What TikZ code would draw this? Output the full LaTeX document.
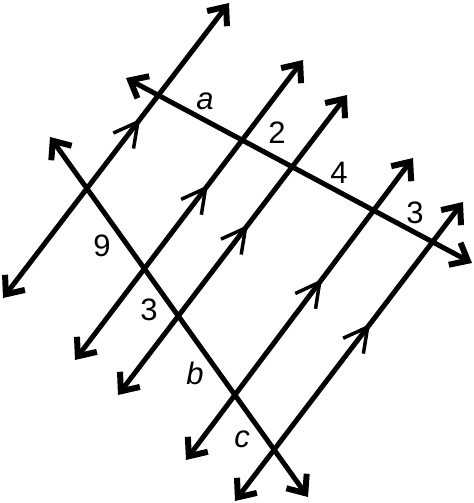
\documentclass[tikz,border=0pt]{standalone}
\usepackage{fontspec}
\setmainfont{Liberation Sans}
\usetikzlibrary{arrows.meta,decorations.markings}
\tikzset{
  barb/.tip={Straight Barb[length=15bp,width=25bp,sharp,line width=6bp]},
  lineb/.style={line width=5bp, draw=black, barb-barb},
  chevron/.style={decorate, decoration={markings,
    mark=at position #1 with {\draw[line width=3.5bp, line join=miter] (-23.8,12.7) -- (0,0) -- (-23.8,-12.7);}}},
  lbl/.style={font=\fontsize{31bp}{36bp}\selectfont, inner sep=0pt, anchor=center}
}
\begin{document}
\begin{tikzpicture}[x=1bp,y=-1bp]
\useasboundingbox (0,0) rectangle (474,503);
% parallel lines
\coordinate (L1s) at (3,298);   \coordinate (L1e) at (229,3);
\coordinate (L2s) at (75,360);  \coordinate (L2e) at (303,60);
\coordinate (L3s) at (118,395); \coordinate (L3e) at (347,95);
\coordinate (L4s) at (186,460); \coordinate (L4e) at (413,158);
\coordinate (L5s) at (235,501); \coordinate (L5e) at (463,202);
% transversals
\coordinate (As) at (126,78);   \coordinate (Ae) at (472,263);
\coordinate (Bs) at (50,137);   \coordinate (Be) at (308,497);

\draw[lineb] (L1s) -- (L1e);
\draw[lineb] (L2s) -- (L2e);
\draw[lineb] (L3s) -- (L3e);
\draw[lineb] (L4s) -- (L4e);
\draw[lineb] (L5s) -- (L5e);
\draw[lineb] (As) -- (Ae);
\draw[lineb] (Bs) -- (Be);

\path[chevron=0.597] (L1s) -- (L1e);
\path[chevron=0.573] (L2s) -- (L2e);
\path[chevron=0.557] (L3s) -- (L3e);
\path[chevron=0.589] (L4s) -- (L4e);
\path[chevron=0.582] (L5s) -- (L5e);

\node[lbl] (la) at (205,101) {\itshape a};
\node[lbl] (l2) at (277,133) {2};
\node[lbl] (l4) at (339,173) {4};
\node[lbl] (l3r) at (415,213) {3};
\node[lbl] (l9) at (102,246) {9};
\node[lbl] (l3l) at (149,310) {3};
\node[lbl] (lb) at (195,373) {\itshape b};
\node[lbl] (lc) at (242,439) {\itshape c};
\end{tikzpicture}
\end{document}
